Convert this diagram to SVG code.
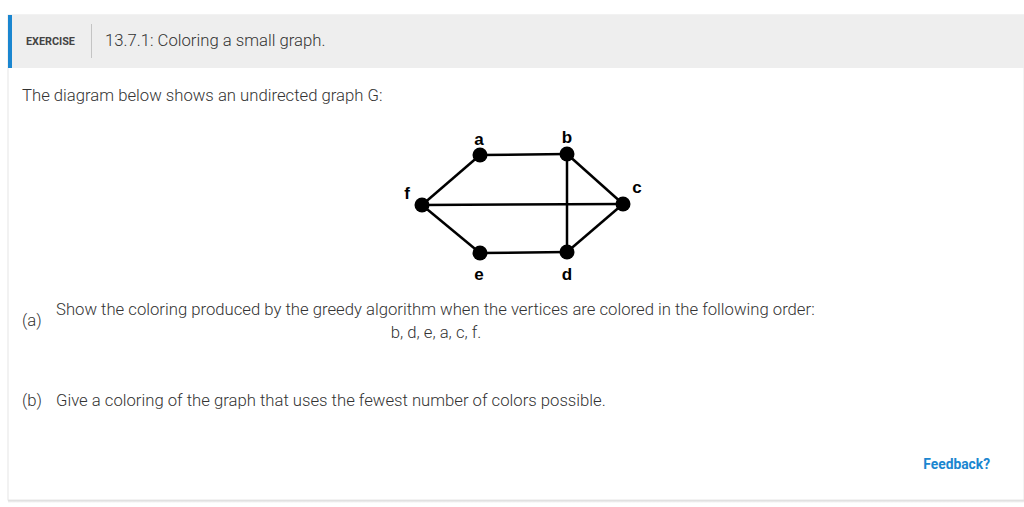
<svg xmlns="http://www.w3.org/2000/svg" width="1024" height="507" viewBox="0 0 1024 507">
<defs>
<style>
.t{font-family:Roboto,"Liberation Sans",sans-serif;font-weight:300;fill:#333;font-size:16.7px;}
.lbl{font-family:"Liberation Sans",Arial,sans-serif;font-weight:bold;font-size:17px;fill:#000;text-anchor:middle;}
.edge{stroke:#000;stroke-width:2.5;fill:none;}
.node{fill:#000;}
</style>
<linearGradient id="sh" x1="0" y1="0" x2="0" y2="1">
<stop offset="0" stop-color="#c8c8c8"/><stop offset="1" stop-color="#ffffff"/>
</linearGradient>
</defs>
<rect width="1024" height="507" fill="#fff"/>
<rect x="8" y="499" width="1016" height="4" fill="url(#sh)"/>
<rect x="8" y="15" width="1016" height="485" fill="#fff" stroke="#e6e6e6" stroke-width="1"/>
<rect x="8" y="15" width="1016" height="53" fill="#eeeeee"/>
<rect x="8" y="15" width="4" height="53" fill="#1a86d0"/>
<line x1="91.5" y1="24" x2="91.5" y2="58" stroke="#c4c4c4" stroke-width="1"/>
<text x="26" y="45" font-family="Roboto,'Liberation Sans',sans-serif" font-weight="bold" font-size="10.8" fill="#444">EXERCISE</text>
<text class="t" x="105" y="46">13.7.1: Coloring a small graph.</text>
<text class="t" x="22" y="101">The diagram below shows an undirected graph G:</text>
<g id="connectors">
<line class="edge" x1="480" y1="155" x2="567" y2="154"/>
<line class="edge" x1="480" y1="155" x2="422" y2="205"/>
<line class="edge" x1="567" y1="154" x2="623" y2="204"/>
<line class="edge" x1="567" y1="154" x2="567" y2="252"/>
<line class="edge" x1="422" y1="205" x2="623" y2="204"/>
<line class="edge" x1="422" y1="205" x2="480" y2="253"/>
<line class="edge" x1="480" y1="253" x2="567" y2="252"/>
<line class="edge" x1="567" y1="252" x2="623" y2="204"/>
</g>
<g id="node-a"><circle class="node" cx="480" cy="155" r="7.5"/><text class="lbl" x="479" y="145">a</text></g>
<g id="node-b"><circle class="node" cx="567" cy="154" r="7.5"/><text class="lbl" x="567" y="143">b</text></g>
<g id="node-c"><circle class="node" cx="623" cy="204" r="7.5"/><text class="lbl" x="637" y="193">c</text></g>
<g id="node-f"><circle class="node" cx="422" cy="205" r="7.5"/><text class="lbl" x="407" y="199">f</text></g>
<g id="node-e"><circle class="node" cx="480" cy="253" r="7.5"/><text class="lbl" x="479" y="280">e</text></g>
<g id="node-d"><circle class="node" cx="567" cy="252" r="7.5"/><text class="lbl" x="567" y="280">d</text></g>
<text class="t" x="22" y="326">(a)</text>
<text class="t" x="56" y="315">Show the coloring produced by the greedy algorithm when the vertices are colored in the following order:</text>
<text class="t" x="436" y="338" text-anchor="middle">b, d, e, a, c, f.</text>
<text class="t" x="22" y="406">(b)</text>
<text class="t" x="56" y="406">Give a coloring of the graph that uses the fewest number of colors possible.</text>
<text x="990" y="469" text-anchor="end" font-family="Roboto,'Liberation Sans',sans-serif" font-weight="bold" font-size="13.8" fill="#1a86d0">Feedback?</text>
</svg>
